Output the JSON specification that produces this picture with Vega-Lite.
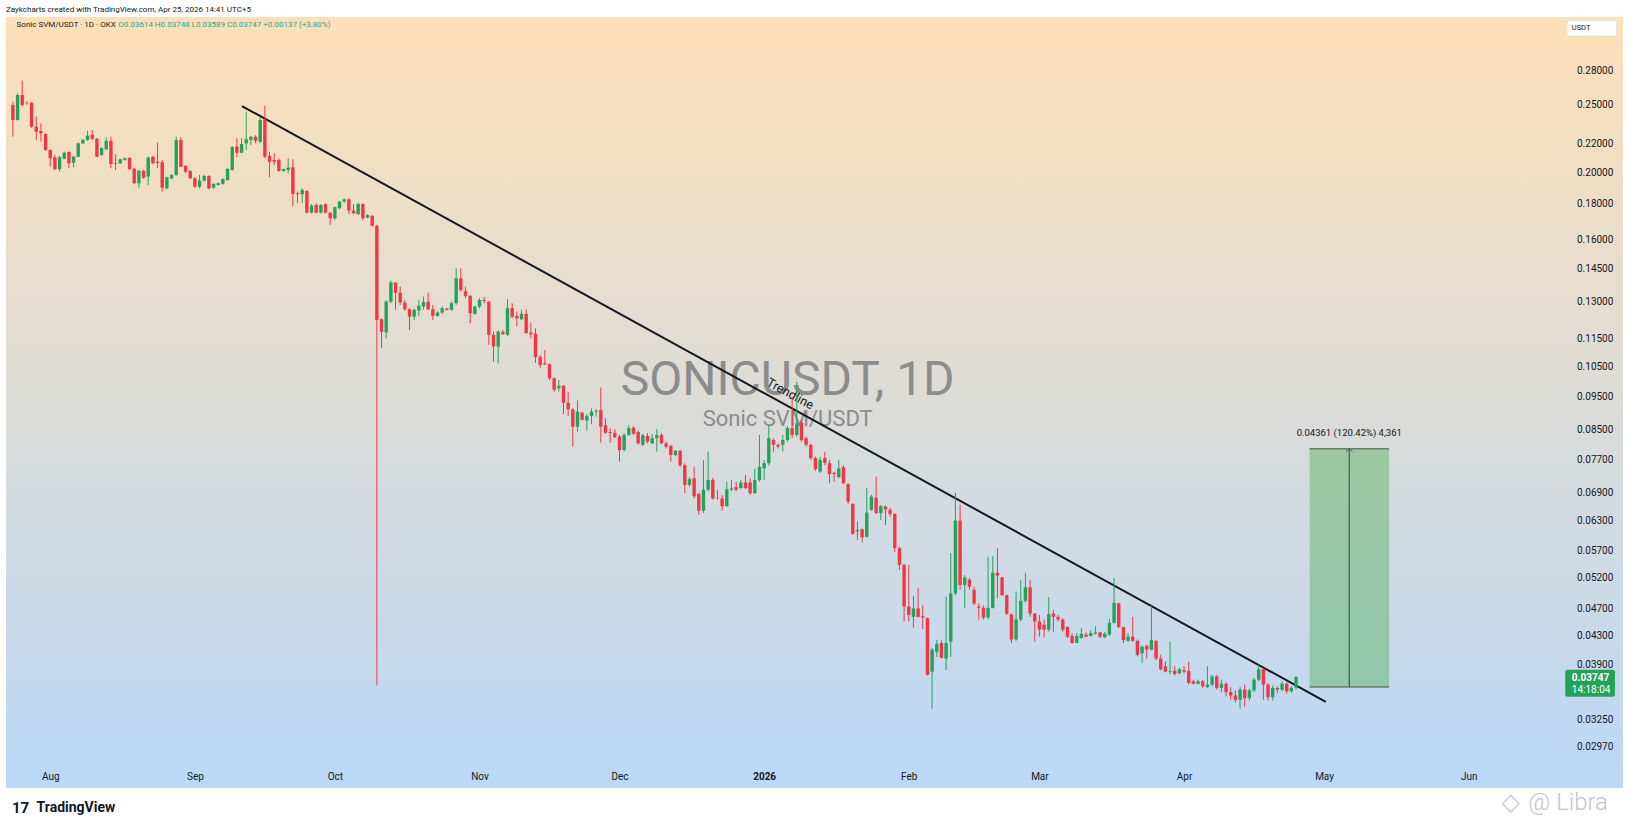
{
  "$schema": "https://vega.github.io/schema/vega-lite/v6.json",
  "width": 1617,
  "height": 771,
  "autosize": {"type": "none"},
  "padding": {"left": 6, "top": 17, "right": 8, "bottom": 40},
  "background": "#ffffff",
  "title": {
    "text": "Zaykcharts created with TradingView.com, Apr 25, 2026 14:41 UTC+5",
    "anchor": "start",
    "frame": "group",
    "font": "Roboto",
    "fontSize": 8,
    "fontWeight": "normal",
    "color": "#131722",
    "offset": 3
  },
  "config": {"view": {"stroke": null}, "font": "Roboto"},
  "datasets": {
    "candles": [
      {"date": "2025-07-24", "open": 0.2499, "high": 0.2526, "low": 0.2249, "close": 0.2377},
      {"date": "2025-07-25", "open": 0.2377, "high": 0.2597, "low": 0.2372, "close": 0.2583},
      {"date": "2025-07-26", "open": 0.2583, "high": 0.2709, "low": 0.2485, "close": 0.2499},
      {"date": "2025-07-27", "open": 0.2518, "high": 0.2529, "low": 0.2501, "close": 0.2513},
      {"date": "2025-07-28", "open": 0.2518, "high": 0.2524, "low": 0.2313, "close": 0.2325},
      {"date": "2025-07-29", "open": 0.2325, "high": 0.2404, "low": 0.2225, "close": 0.2287},
      {"date": "2025-07-30", "open": 0.2292, "high": 0.2351, "low": 0.2212, "close": 0.2275},
      {"date": "2025-07-31", "open": 0.2270, "high": 0.2275, "low": 0.2147, "close": 0.2152},
      {"date": "2025-08-01", "open": 0.2152, "high": 0.2157, "low": 0.2036, "close": 0.2094},
      {"date": "2025-08-02", "open": 0.2101, "high": 0.2117, "low": 0.2014, "close": 0.2019},
      {"date": "2025-08-03", "open": 0.2019, "high": 0.2110, "low": 0.2003, "close": 0.2101},
      {"date": "2025-08-04", "open": 0.2091, "high": 0.2140, "low": 0.2087, "close": 0.2133},
      {"date": "2025-08-05", "open": 0.2138, "high": 0.2143, "low": 0.2026, "close": 0.2059},
      {"date": "2025-08-06", "open": 0.2063, "high": 0.2110, "low": 0.2032, "close": 0.2105},
      {"date": "2025-08-07", "open": 0.2105, "high": 0.2205, "low": 0.2101, "close": 0.2200},
      {"date": "2025-08-08", "open": 0.2200, "high": 0.2234, "low": 0.2195, "close": 0.2225},
      {"date": "2025-08-09", "open": 0.2225, "high": 0.2294, "low": 0.2219, "close": 0.2257},
      {"date": "2025-08-10", "open": 0.2264, "high": 0.2300, "low": 0.2225, "close": 0.2234},
      {"date": "2025-08-11", "open": 0.2234, "high": 0.2240, "low": 0.2101, "close": 0.2105},
      {"date": "2025-08-12", "open": 0.2117, "high": 0.2172, "low": 0.2110, "close": 0.2165},
      {"date": "2025-08-13", "open": 0.2157, "high": 0.2245, "low": 0.2152, "close": 0.2219},
      {"date": "2025-08-14", "open": 0.2219, "high": 0.2249, "low": 0.2026, "close": 0.2054},
      {"date": "2025-08-15", "open": 0.2059, "high": 0.2123, "low": 0.2014, "close": 0.2054},
      {"date": "2025-08-16", "open": 0.2059, "high": 0.2091, "low": 0.2054, "close": 0.2087},
      {"date": "2025-08-17", "open": 0.2082, "high": 0.2101, "low": 0.2077, "close": 0.2094},
      {"date": "2025-08-18", "open": 0.2096, "high": 0.2101, "low": 0.2014, "close": 0.2019},
      {"date": "2025-08-19", "open": 0.2023, "high": 0.2028, "low": 0.1923, "close": 0.1927},
      {"date": "2025-08-20", "open": 0.1927, "high": 0.2014, "low": 0.1895, "close": 0.2009},
      {"date": "2025-08-21", "open": 0.2009, "high": 0.2014, "low": 0.1957, "close": 0.1963},
      {"date": "2025-08-22", "open": 0.1970, "high": 0.2105, "low": 0.1916, "close": 0.2098},
      {"date": "2025-08-23", "open": 0.2105, "high": 0.2110, "low": 0.2054, "close": 0.2059},
      {"date": "2025-08-24", "open": 0.2070, "high": 0.2205, "low": 0.2026, "close": 0.2061},
      {"date": "2025-08-25", "open": 0.2066, "high": 0.2082, "low": 0.1874, "close": 0.1899},
      {"date": "2025-08-26", "open": 0.1895, "high": 0.1970, "low": 0.1889, "close": 0.1966},
      {"date": "2025-08-27", "open": 0.1959, "high": 0.1985, "low": 0.1953, "close": 0.1981},
      {"date": "2025-08-28", "open": 0.1981, "high": 0.2249, "low": 0.1974, "close": 0.2225},
      {"date": "2025-08-29", "open": 0.2225, "high": 0.2245, "low": 0.2032, "close": 0.2036},
      {"date": "2025-08-30", "open": 0.2041, "high": 0.2046, "low": 0.1992, "close": 0.2003},
      {"date": "2025-08-31", "open": 0.2007, "high": 0.2014, "low": 0.1953, "close": 0.1959},
      {"date": "2025-09-01", "open": 0.1959, "high": 0.1966, "low": 0.1899, "close": 0.1905},
      {"date": "2025-09-02", "open": 0.1905, "high": 0.1981, "low": 0.1895, "close": 0.1944},
      {"date": "2025-09-03", "open": 0.1944, "high": 0.1981, "low": 0.1937, "close": 0.1974},
      {"date": "2025-09-04", "open": 0.1974, "high": 0.1979, "low": 0.1889, "close": 0.1895},
      {"date": "2025-09-05", "open": 0.1899, "high": 0.1927, "low": 0.1893, "close": 0.1923},
      {"date": "2025-09-06", "open": 0.1916, "high": 0.1931, "low": 0.1912, "close": 0.1927},
      {"date": "2025-09-07", "open": 0.1923, "high": 0.1959, "low": 0.1918, "close": 0.1955},
      {"date": "2025-09-08", "open": 0.1948, "high": 0.2026, "low": 0.1944, "close": 0.2021},
      {"date": "2025-09-09", "open": 0.2014, "high": 0.2181, "low": 0.2009, "close": 0.2172},
      {"date": "2025-09-10", "open": 0.2177, "high": 0.2237, "low": 0.2101, "close": 0.2133},
      {"date": "2025-09-11", "open": 0.2133, "high": 0.2237, "low": 0.2129, "close": 0.2195},
      {"date": "2025-09-12", "open": 0.2200, "high": 0.2444, "low": 0.2152, "close": 0.2230},
      {"date": "2025-09-13", "open": 0.2225, "high": 0.2255, "low": 0.2188, "close": 0.2249},
      {"date": "2025-09-14", "open": 0.2249, "high": 0.2260, "low": 0.2200, "close": 0.2219},
      {"date": "2025-09-15", "open": 0.2212, "high": 0.2399, "low": 0.2200, "close": 0.2377},
      {"date": "2025-09-16", "open": 0.2383, "high": 0.2493, "low": 0.2094, "close": 0.2105},
      {"date": "2025-09-17", "open": 0.2110, "high": 0.2140, "low": 0.1966, "close": 0.2070},
      {"date": "2025-09-18", "open": 0.2082, "high": 0.2129, "low": 0.2047, "close": 0.2070},
      {"date": "2025-09-19", "open": 0.2082, "high": 0.2094, "low": 0.2003, "close": 0.2007},
      {"date": "2025-09-20", "open": 0.2007, "high": 0.2023, "low": 0.2003, "close": 0.2019},
      {"date": "2025-09-21", "open": 0.2014, "high": 0.2094, "low": 0.1992, "close": 0.2030},
      {"date": "2025-09-22", "open": 0.2032, "high": 0.2087, "low": 0.1787, "close": 0.1860},
      {"date": "2025-09-23", "open": 0.1864, "high": 0.1874, "low": 0.1803, "close": 0.1858},
      {"date": "2025-09-24", "open": 0.1858, "high": 0.1895, "low": 0.1803, "close": 0.1885},
      {"date": "2025-09-25", "open": 0.1878, "high": 0.1885, "low": 0.1744, "close": 0.1748},
      {"date": "2025-09-26", "open": 0.1748, "high": 0.1798, "low": 0.1744, "close": 0.1789},
      {"date": "2025-09-27", "open": 0.1793, "high": 0.1803, "low": 0.1744, "close": 0.1748},
      {"date": "2025-09-28", "open": 0.1748, "high": 0.1799, "low": 0.1744, "close": 0.1793},
      {"date": "2025-09-29", "open": 0.1798, "high": 0.1803, "low": 0.1744, "close": 0.1748},
      {"date": "2025-09-30", "open": 0.1748, "high": 0.1752, "low": 0.1678, "close": 0.1716},
      {"date": "2025-10-01", "open": 0.1716, "high": 0.1784, "low": 0.1706, "close": 0.1780},
      {"date": "2025-10-02", "open": 0.1774, "high": 0.1819, "low": 0.1768, "close": 0.1813},
      {"date": "2025-10-03", "open": 0.1813, "high": 0.1831, "low": 0.1807, "close": 0.1827},
      {"date": "2025-10-04", "open": 0.1827, "high": 0.1831, "low": 0.1740, "close": 0.1760},
      {"date": "2025-10-05", "open": 0.1760, "high": 0.1799, "low": 0.1740, "close": 0.1744},
      {"date": "2025-10-06", "open": 0.1740, "high": 0.1807, "low": 0.1734, "close": 0.1799},
      {"date": "2025-10-07", "open": 0.1799, "high": 0.1803, "low": 0.1706, "close": 0.1716},
      {"date": "2025-10-08", "open": 0.1719, "high": 0.1740, "low": 0.1716, "close": 0.1734},
      {"date": "2025-10-09", "open": 0.1730, "high": 0.1734, "low": 0.1669, "close": 0.1674},
      {"date": "2025-10-10", "open": 0.1674, "high": 0.1678, "low": 0.0364, "close": 0.1224},
      {"date": "2025-10-11", "open": 0.1227, "high": 0.1230, "low": 0.1116, "close": 0.1177},
      {"date": "2025-10-12", "open": 0.1175, "high": 0.1308, "low": 0.1152, "close": 0.1301},
      {"date": "2025-10-13", "open": 0.1301, "high": 0.1395, "low": 0.1294, "close": 0.1386},
      {"date": "2025-10-14", "open": 0.1386, "high": 0.1389, "low": 0.1266, "close": 0.1340},
      {"date": "2025-10-15", "open": 0.1340, "high": 0.1367, "low": 0.1287, "close": 0.1297},
      {"date": "2025-10-16", "open": 0.1297, "high": 0.1308, "low": 0.1263, "close": 0.1268},
      {"date": "2025-10-17", "open": 0.1268, "high": 0.1273, "low": 0.1184, "close": 0.1238},
      {"date": "2025-10-18", "open": 0.1238, "high": 0.1271, "low": 0.1224, "close": 0.1266},
      {"date": "2025-10-19", "open": 0.1263, "high": 0.1308, "low": 0.1241, "close": 0.1283},
      {"date": "2025-10-20", "open": 0.1280, "high": 0.1323, "low": 0.1266, "close": 0.1300},
      {"date": "2025-10-21", "open": 0.1300, "high": 0.1340, "low": 0.1266, "close": 0.1268},
      {"date": "2025-10-22", "open": 0.1268, "high": 0.1287, "low": 0.1224, "close": 0.1241},
      {"date": "2025-10-23", "open": 0.1241, "high": 0.1259, "low": 0.1238, "close": 0.1255},
      {"date": "2025-10-24", "open": 0.1255, "high": 0.1280, "low": 0.1249, "close": 0.1273},
      {"date": "2025-10-25", "open": 0.1271, "high": 0.1274, "low": 0.1263, "close": 0.1266},
      {"date": "2025-10-26", "open": 0.1266, "high": 0.1301, "low": 0.1263, "close": 0.1294},
      {"date": "2025-10-27", "open": 0.1294, "high": 0.1453, "low": 0.1287, "close": 0.1406},
      {"date": "2025-10-28", "open": 0.1406, "high": 0.1453, "low": 0.1345, "close": 0.1352},
      {"date": "2025-10-29", "open": 0.1347, "high": 0.1367, "low": 0.1316, "close": 0.1326},
      {"date": "2025-10-30", "open": 0.1326, "high": 0.1330, "low": 0.1211, "close": 0.1252},
      {"date": "2025-10-31", "open": 0.1249, "high": 0.1283, "low": 0.1245, "close": 0.1280},
      {"date": "2025-11-01", "open": 0.1280, "high": 0.1316, "low": 0.1273, "close": 0.1308},
      {"date": "2025-11-02", "open": 0.1308, "high": 0.1321, "low": 0.1294, "close": 0.1304},
      {"date": "2025-11-03", "open": 0.1301, "high": 0.1304, "low": 0.1127, "close": 0.1165},
      {"date": "2025-11-04", "open": 0.1165, "high": 0.1178, "low": 0.1066, "close": 0.1121},
      {"date": "2025-11-05", "open": 0.1121, "high": 0.1182, "low": 0.1060, "close": 0.1178},
      {"date": "2025-11-06", "open": 0.1177, "high": 0.1184, "low": 0.1165, "close": 0.1168},
      {"date": "2025-11-07", "open": 0.1165, "high": 0.1311, "low": 0.1161, "close": 0.1273},
      {"date": "2025-11-08", "open": 0.1273, "high": 0.1294, "low": 0.1231, "close": 0.1238},
      {"date": "2025-11-09", "open": 0.1241, "high": 0.1259, "low": 0.1198, "close": 0.1231},
      {"date": "2025-11-10", "open": 0.1227, "high": 0.1266, "low": 0.1224, "close": 0.1249},
      {"date": "2025-11-11", "open": 0.1249, "high": 0.1268, "low": 0.1170, "close": 0.1172},
      {"date": "2025-11-12", "open": 0.1174, "high": 0.1213, "low": 0.1152, "close": 0.1168},
      {"date": "2025-11-13", "open": 0.1170, "high": 0.1191, "low": 0.1062, "close": 0.1082},
      {"date": "2025-11-14", "open": 0.1082, "high": 0.1090, "low": 0.1043, "close": 0.1054},
      {"date": "2025-11-15", "open": 0.1060, "high": 0.1108, "low": 0.1054, "close": 0.1056},
      {"date": "2025-11-16", "open": 0.1057, "high": 0.1060, "low": 0.1003, "close": 0.1009},
      {"date": "2025-11-17", "open": 0.1009, "high": 0.1012, "low": 0.0965, "close": 0.0971},
      {"date": "2025-11-18", "open": 0.0976, "high": 0.1003, "low": 0.0965, "close": 0.0984},
      {"date": "2025-11-19", "open": 0.0984, "high": 0.0986, "low": 0.0896, "close": 0.0930},
      {"date": "2025-11-20", "open": 0.0930, "high": 0.0965, "low": 0.0890, "close": 0.0910},
      {"date": "2025-11-21", "open": 0.0910, "high": 0.0913, "low": 0.0804, "close": 0.0859},
      {"date": "2025-11-22", "open": 0.0859, "high": 0.0937, "low": 0.0845, "close": 0.0903},
      {"date": "2025-11-23", "open": 0.0900, "high": 0.0903, "low": 0.0877, "close": 0.0879},
      {"date": "2025-11-24", "open": 0.0877, "high": 0.0896, "low": 0.0848, "close": 0.0890},
      {"date": "2025-11-25", "open": 0.0890, "high": 0.0913, "low": 0.0867, "close": 0.0903},
      {"date": "2025-11-26", "open": 0.0903, "high": 0.0910, "low": 0.0888, "close": 0.0906},
      {"date": "2025-11-27", "open": 0.0908, "high": 0.0979, "low": 0.0815, "close": 0.0859},
      {"date": "2025-11-28", "open": 0.0863, "high": 0.0884, "low": 0.0839, "close": 0.0842},
      {"date": "2025-11-29", "open": 0.0844, "high": 0.0855, "low": 0.0814, "close": 0.0841},
      {"date": "2025-11-30", "open": 0.0841, "high": 0.0852, "low": 0.0827, "close": 0.0830},
      {"date": "2025-12-01", "open": 0.0831, "high": 0.0836, "low": 0.0765, "close": 0.0795},
      {"date": "2025-12-02", "open": 0.0795, "high": 0.0841, "low": 0.0791, "close": 0.0836},
      {"date": "2025-12-03", "open": 0.0836, "high": 0.0864, "low": 0.0833, "close": 0.0855},
      {"date": "2025-12-04", "open": 0.0856, "high": 0.0861, "low": 0.0836, "close": 0.0839},
      {"date": "2025-12-05", "open": 0.0844, "high": 0.0848, "low": 0.0809, "close": 0.0813},
      {"date": "2025-12-06", "open": 0.0809, "high": 0.0839, "low": 0.0806, "close": 0.0835},
      {"date": "2025-12-07", "open": 0.0833, "high": 0.0841, "low": 0.0813, "close": 0.0818},
      {"date": "2025-12-08", "open": 0.0813, "high": 0.0839, "low": 0.0811, "close": 0.0827},
      {"date": "2025-12-09", "open": 0.0827, "high": 0.0852, "low": 0.0791, "close": 0.0836},
      {"date": "2025-12-10", "open": 0.0836, "high": 0.0841, "low": 0.0811, "close": 0.0813},
      {"date": "2025-12-11", "open": 0.0813, "high": 0.0818, "low": 0.0799, "close": 0.0804},
      {"date": "2025-12-12", "open": 0.0806, "high": 0.0809, "low": 0.0765, "close": 0.0782},
      {"date": "2025-12-13", "open": 0.0782, "high": 0.0795, "low": 0.0779, "close": 0.0793},
      {"date": "2025-12-14", "open": 0.0793, "high": 0.0795, "low": 0.0752, "close": 0.0756},
      {"date": "2025-12-15", "open": 0.0756, "high": 0.0761, "low": 0.0689, "close": 0.0708},
      {"date": "2025-12-16", "open": 0.0708, "high": 0.0727, "low": 0.0704, "close": 0.0722},
      {"date": "2025-12-17", "open": 0.0724, "high": 0.0752, "low": 0.0677, "close": 0.0682},
      {"date": "2025-12-18", "open": 0.0687, "high": 0.0690, "low": 0.0641, "close": 0.0650},
      {"date": "2025-12-19", "open": 0.0650, "high": 0.0769, "low": 0.0645, "close": 0.0697},
      {"date": "2025-12-20", "open": 0.0697, "high": 0.0791, "low": 0.0693, "close": 0.0720},
      {"date": "2025-12-21", "open": 0.0720, "high": 0.0725, "low": 0.0674, "close": 0.0677},
      {"date": "2025-12-22", "open": 0.0680, "high": 0.0697, "low": 0.0674, "close": 0.0679},
      {"date": "2025-12-23", "open": 0.0677, "high": 0.0685, "low": 0.0650, "close": 0.0660},
      {"date": "2025-12-24", "open": 0.0660, "high": 0.0716, "low": 0.0659, "close": 0.0698},
      {"date": "2025-12-25", "open": 0.0697, "high": 0.0720, "low": 0.0693, "close": 0.0700},
      {"date": "2025-12-26", "open": 0.0703, "high": 0.0716, "low": 0.0693, "close": 0.0697},
      {"date": "2025-12-27", "open": 0.0701, "high": 0.0720, "low": 0.0698, "close": 0.0714},
      {"date": "2025-12-28", "open": 0.0714, "high": 0.0732, "low": 0.0698, "close": 0.0701},
      {"date": "2025-12-29", "open": 0.0714, "high": 0.0724, "low": 0.0685, "close": 0.0689},
      {"date": "2025-12-30", "open": 0.0689, "high": 0.0748, "low": 0.0687, "close": 0.0720},
      {"date": "2025-12-31", "open": 0.0720, "high": 0.0836, "low": 0.0716, "close": 0.0752},
      {"date": "2026-01-01", "open": 0.0748, "high": 0.0769, "low": 0.0720, "close": 0.0761},
      {"date": "2026-01-02", "open": 0.0761, "high": 0.0864, "low": 0.0756, "close": 0.0827},
      {"date": "2026-01-03", "open": 0.0822, "high": 0.0827, "low": 0.0791, "close": 0.0809},
      {"date": "2026-01-04", "open": 0.0809, "high": 0.0813, "low": 0.0799, "close": 0.0804},
      {"date": "2026-01-05", "open": 0.0809, "high": 0.0836, "low": 0.0791, "close": 0.0822},
      {"date": "2026-01-06", "open": 0.0822, "high": 0.0861, "low": 0.0817, "close": 0.0855},
      {"date": "2026-01-07", "open": 0.0855, "high": 0.0949, "low": 0.0827, "close": 0.0836},
      {"date": "2026-01-08", "open": 0.0836, "high": 0.0997, "low": 0.0831, "close": 0.0869},
      {"date": "2026-01-09", "open": 0.0871, "high": 0.0879, "low": 0.0817, "close": 0.0822},
      {"date": "2026-01-10", "open": 0.0827, "high": 0.0831, "low": 0.0804, "close": 0.0809},
      {"date": "2026-01-11", "open": 0.0809, "high": 0.0811, "low": 0.0769, "close": 0.0774},
      {"date": "2026-01-12", "open": 0.0774, "high": 0.0778, "low": 0.0742, "close": 0.0746},
      {"date": "2026-01-13", "open": 0.0740, "high": 0.0777, "low": 0.0737, "close": 0.0769},
      {"date": "2026-01-14", "open": 0.0774, "high": 0.0791, "low": 0.0756, "close": 0.0762},
      {"date": "2026-01-15", "open": 0.0761, "high": 0.0769, "low": 0.0712, "close": 0.0734},
      {"date": "2026-01-16", "open": 0.0737, "high": 0.0740, "low": 0.0716, "close": 0.0734},
      {"date": "2026-01-17", "open": 0.0727, "high": 0.0769, "low": 0.0724, "close": 0.0748},
      {"date": "2026-01-18", "open": 0.0751, "high": 0.0756, "low": 0.0710, "close": 0.0712},
      {"date": "2026-01-19", "open": 0.0710, "high": 0.0712, "low": 0.0665, "close": 0.0670},
      {"date": "2026-01-20", "open": 0.0665, "high": 0.0666, "low": 0.0600, "close": 0.0602},
      {"date": "2026-01-21", "open": 0.0607, "high": 0.0627, "low": 0.0590, "close": 0.0610},
      {"date": "2026-01-22", "open": 0.0611, "high": 0.0613, "low": 0.0585, "close": 0.0595},
      {"date": "2026-01-23", "open": 0.0596, "high": 0.0701, "low": 0.0595, "close": 0.0646},
      {"date": "2026-01-24", "open": 0.0652, "high": 0.0685, "low": 0.0650, "close": 0.0681},
      {"date": "2026-01-25", "open": 0.0679, "high": 0.0728, "low": 0.0643, "close": 0.0645},
      {"date": "2026-01-26", "open": 0.0645, "high": 0.0662, "low": 0.0630, "close": 0.0660},
      {"date": "2026-01-27", "open": 0.0659, "high": 0.0662, "low": 0.0620, "close": 0.0653},
      {"date": "2026-01-28", "open": 0.0652, "high": 0.0656, "low": 0.0637, "close": 0.0643},
      {"date": "2026-01-29", "open": 0.0643, "high": 0.0645, "low": 0.0567, "close": 0.0574},
      {"date": "2026-01-30", "open": 0.0574, "high": 0.0577, "low": 0.0534, "close": 0.0543},
      {"date": "2026-01-31", "open": 0.0543, "high": 0.0545, "low": 0.0450, "close": 0.0473},
      {"date": "2026-02-01", "open": 0.0473, "high": 0.0543, "low": 0.0450, "close": 0.0460},
      {"date": "2026-02-02", "open": 0.0457, "high": 0.0490, "low": 0.0441, "close": 0.0470},
      {"date": "2026-02-03", "open": 0.0470, "high": 0.0503, "low": 0.0456, "close": 0.0457},
      {"date": "2026-02-04", "open": 0.0458, "high": 0.0475, "low": 0.0439, "close": 0.0456},
      {"date": "2026-02-05", "open": 0.0455, "high": 0.0456, "low": 0.0376, "close": 0.0377},
      {"date": "2026-02-06", "open": 0.0381, "high": 0.0412, "low": 0.0337, "close": 0.0410},
      {"date": "2026-02-07", "open": 0.0407, "high": 0.0423, "low": 0.0400, "close": 0.0418},
      {"date": "2026-02-08", "open": 0.0419, "high": 0.0423, "low": 0.0398, "close": 0.0399},
      {"date": "2026-02-09", "open": 0.0398, "high": 0.0489, "low": 0.0383, "close": 0.0419},
      {"date": "2026-02-10", "open": 0.0421, "high": 0.0565, "low": 0.0400, "close": 0.0494},
      {"date": "2026-02-11", "open": 0.0494, "high": 0.0690, "low": 0.0491, "close": 0.0629},
      {"date": "2026-02-12", "open": 0.0629, "high": 0.0663, "low": 0.0500, "close": 0.0508},
      {"date": "2026-02-13", "open": 0.0508, "high": 0.0525, "low": 0.0471, "close": 0.0521},
      {"date": "2026-02-14", "open": 0.0517, "high": 0.0520, "low": 0.0500, "close": 0.0505},
      {"date": "2026-02-15", "open": 0.0500, "high": 0.0505, "low": 0.0475, "close": 0.0478},
      {"date": "2026-02-16", "open": 0.0473, "high": 0.0478, "low": 0.0453, "close": 0.0471},
      {"date": "2026-02-17", "open": 0.0471, "high": 0.0475, "low": 0.0453, "close": 0.0456},
      {"date": "2026-02-18", "open": 0.0456, "high": 0.0558, "low": 0.0453, "close": 0.0471},
      {"date": "2026-02-19", "open": 0.0471, "high": 0.0559, "low": 0.0470, "close": 0.0529},
      {"date": "2026-02-20", "open": 0.0529, "high": 0.0574, "low": 0.0486, "close": 0.0524},
      {"date": "2026-02-21", "open": 0.0521, "high": 0.0522, "low": 0.0490, "close": 0.0491},
      {"date": "2026-02-22", "open": 0.0491, "high": 0.0492, "low": 0.0460, "close": 0.0462},
      {"date": "2026-02-23", "open": 0.0461, "high": 0.0462, "low": 0.0419, "close": 0.0424},
      {"date": "2026-02-24", "open": 0.0424, "high": 0.0497, "low": 0.0422, "close": 0.0453},
      {"date": "2026-02-25", "open": 0.0453, "high": 0.0517, "low": 0.0450, "close": 0.0482},
      {"date": "2026-02-26", "open": 0.0482, "high": 0.0529, "low": 0.0479, "close": 0.0504},
      {"date": "2026-02-27", "open": 0.0504, "high": 0.0517, "low": 0.0457, "close": 0.0462},
      {"date": "2026-02-28", "open": 0.0462, "high": 0.0463, "low": 0.0421, "close": 0.0450},
      {"date": "2026-03-01", "open": 0.0450, "high": 0.0460, "low": 0.0428, "close": 0.0438},
      {"date": "2026-03-02", "open": 0.0445, "high": 0.0453, "low": 0.0427, "close": 0.0438},
      {"date": "2026-03-03", "open": 0.0438, "high": 0.0488, "low": 0.0435, "close": 0.0461},
      {"date": "2026-03-04", "open": 0.0462, "high": 0.0468, "low": 0.0435, "close": 0.0457},
      {"date": "2026-03-05", "open": 0.0457, "high": 0.0460, "low": 0.0450, "close": 0.0453},
      {"date": "2026-03-06", "open": 0.0453, "high": 0.0455, "low": 0.0435, "close": 0.0438},
      {"date": "2026-03-07", "open": 0.0442, "high": 0.0443, "low": 0.0426, "close": 0.0428},
      {"date": "2026-03-08", "open": 0.0429, "high": 0.0433, "low": 0.0418, "close": 0.0419},
      {"date": "2026-03-09", "open": 0.0419, "high": 0.0433, "low": 0.0419, "close": 0.0429},
      {"date": "2026-03-10", "open": 0.0426, "high": 0.0440, "low": 0.0425, "close": 0.0432},
      {"date": "2026-03-11", "open": 0.0431, "high": 0.0434, "low": 0.0427, "close": 0.0428},
      {"date": "2026-03-12", "open": 0.0429, "high": 0.0437, "low": 0.0428, "close": 0.0433},
      {"date": "2026-03-13", "open": 0.0432, "high": 0.0443, "low": 0.0431, "close": 0.0434},
      {"date": "2026-03-14", "open": 0.0434, "high": 0.0435, "low": 0.0426, "close": 0.0428},
      {"date": "2026-03-15", "open": 0.0427, "high": 0.0435, "low": 0.0426, "close": 0.0432},
      {"date": "2026-03-16", "open": 0.0431, "high": 0.0454, "low": 0.0429, "close": 0.0448},
      {"date": "2026-03-17", "open": 0.0448, "high": 0.0520, "low": 0.0447, "close": 0.0479},
      {"date": "2026-03-18", "open": 0.0478, "high": 0.0479, "low": 0.0440, "close": 0.0442},
      {"date": "2026-03-19", "open": 0.0442, "high": 0.0442, "low": 0.0419, "close": 0.0423},
      {"date": "2026-03-20", "open": 0.0422, "high": 0.0433, "low": 0.0421, "close": 0.0428},
      {"date": "2026-03-21", "open": 0.0428, "high": 0.0457, "low": 0.0421, "close": 0.0422},
      {"date": "2026-03-22", "open": 0.0422, "high": 0.0424, "low": 0.0401, "close": 0.0403},
      {"date": "2026-03-23", "open": 0.0405, "high": 0.0415, "low": 0.0392, "close": 0.0414},
      {"date": "2026-03-24", "open": 0.0415, "high": 0.0417, "low": 0.0398, "close": 0.0410},
      {"date": "2026-03-25", "open": 0.0410, "high": 0.0474, "low": 0.0409, "close": 0.0423},
      {"date": "2026-03-26", "open": 0.0422, "high": 0.0423, "low": 0.0396, "close": 0.0398},
      {"date": "2026-03-27", "open": 0.0398, "high": 0.0403, "low": 0.0383, "close": 0.0384},
      {"date": "2026-03-28", "open": 0.0388, "high": 0.0394, "low": 0.0380, "close": 0.0381},
      {"date": "2026-03-29", "open": 0.0381, "high": 0.0421, "low": 0.0378, "close": 0.0382},
      {"date": "2026-03-30", "open": 0.0382, "high": 0.0388, "low": 0.0376, "close": 0.0378},
      {"date": "2026-03-31", "open": 0.0379, "high": 0.0386, "low": 0.0378, "close": 0.0384},
      {"date": "2026-04-01", "open": 0.0383, "high": 0.0388, "low": 0.0379, "close": 0.0381},
      {"date": "2026-04-02", "open": 0.0382, "high": 0.0394, "low": 0.0365, "close": 0.0367},
      {"date": "2026-04-03", "open": 0.0369, "high": 0.0371, "low": 0.0365, "close": 0.0366},
      {"date": "2026-04-04", "open": 0.0366, "high": 0.0371, "low": 0.0365, "close": 0.0369},
      {"date": "2026-04-05", "open": 0.0369, "high": 0.0371, "low": 0.0361, "close": 0.0363},
      {"date": "2026-04-06", "open": 0.0362, "high": 0.0388, "low": 0.0361, "close": 0.0365},
      {"date": "2026-04-07", "open": 0.0365, "high": 0.0377, "low": 0.0363, "close": 0.0375},
      {"date": "2026-04-08", "open": 0.0375, "high": 0.0377, "low": 0.0359, "close": 0.0361},
      {"date": "2026-04-09", "open": 0.0361, "high": 0.0371, "low": 0.0356, "close": 0.0366},
      {"date": "2026-04-10", "open": 0.0366, "high": 0.0368, "low": 0.0351, "close": 0.0356},
      {"date": "2026-04-11", "open": 0.0356, "high": 0.0362, "low": 0.0347, "close": 0.0352},
      {"date": "2026-04-12", "open": 0.0352, "high": 0.0358, "low": 0.0344, "close": 0.0347},
      {"date": "2026-04-13", "open": 0.0347, "high": 0.0362, "low": 0.0337, "close": 0.0359},
      {"date": "2026-04-14", "open": 0.0359, "high": 0.0365, "low": 0.0339, "close": 0.0349},
      {"date": "2026-04-15", "open": 0.0349, "high": 0.0360, "low": 0.0346, "close": 0.0358},
      {"date": "2026-04-16", "open": 0.0358, "high": 0.0373, "low": 0.0356, "close": 0.0371},
      {"date": "2026-04-17", "open": 0.0371, "high": 0.0390, "low": 0.0369, "close": 0.0384},
      {"date": "2026-04-18", "open": 0.0384, "high": 0.0385, "low": 0.0347, "close": 0.0365},
      {"date": "2026-04-19", "open": 0.0365, "high": 0.0367, "low": 0.0346, "close": 0.0350},
      {"date": "2026-04-20", "open": 0.0350, "high": 0.0364, "low": 0.0346, "close": 0.0361},
      {"date": "2026-04-21", "open": 0.0361, "high": 0.0363, "low": 0.0355, "close": 0.0359},
      {"date": "2026-04-22", "open": 0.0359, "high": 0.0369, "low": 0.0357, "close": 0.0366},
      {"date": "2026-04-23", "open": 0.0366, "high": 0.0368, "low": 0.0354, "close": 0.0357},
      {"date": "2026-04-24", "open": 0.0357, "high": 0.0363, "low": 0.0355, "close": 0.0361},
      {"date": "2026-04-25", "open": 0.03614, "high": 0.03748, "low": 0.03589, "close": 0.03747}
    ]
  },
  "layer": [
    {
      "data": {"values": [{}]},
      "mark": {
        "type": "rect",
        "strokeWidth": 0,
        "fill": {
          "gradient": "linear", "x1": 0, "y1": 0, "x2": 0, "y2": 1,
          "stops": [{"offset": 0, "color": "#fde0b8"}, {"offset": 1, "color": "#bbd8f7"}]
        }
      },
      "encoding": {}
    },
    {
      "data": {"values": [{}]},
      "mark": {"type": "text", "text": "SONICUSDT, 1D", "font": "Roboto", "fontSize": 48, "color": "#8c8c8c", "align": "center", "baseline": "alphabetic"},
      "encoding": {
        "x": {"datum": {"year": 2026, "month": 1, "date": 6, "hours": 1, "utc": true}, "type": "temporal"},
        "y": {"datum": 0.09544, "type": "quantitative"}
      }
    },
    {
      "data": {"values": [{}]},
      "mark": {"type": "text", "text": "Sonic SVM/USDT", "font": "Roboto", "fontSize": 22, "color": "#8c8c8c", "align": "center", "baseline": "alphabetic"},
      "encoding": {
        "x": {"datum": {"year": 2026, "month": 1, "date": 6, "hours": 1, "utc": true}, "type": "temporal"},
        "y": {"datum": 0.08614, "type": "quantitative"}
      }
    },
    {
      "data": {"values": [{"date": "2025-09-11T02:00:00Z", "price": 0.249}, {"date": "2026-05-01T09:00:00Z", "price": 0.03447}]},
      "mark": {"type": "line", "color": "#131722", "strokeWidth": 2},
      "encoding": {
        "x": {"field": "date", "type": "temporal"},
        "y": {"field": "price", "type": "quantitative"}
      }
    },
    {
      "data": {"values": [{}]},
      "mark": {"type": "text", "text": "Trendline", "font": "Roboto", "fontSize": 12.5, "color": "#131722", "align": "center", "baseline": "middle", "angle": 28.7},
      "encoding": {
        "x": {"datum": {"year": 2026, "month": 1, "date": 6, "hours": 14, "minutes": 24, "utc": true}, "type": "temporal"},
        "y": {"datum": 0.0958, "type": "quantitative"}
      }
    },
    {
      "data": {"name": "candles"},
      "mark": {"type": "rule", "strokeWidth": 1},
      "encoding": {
        "x": {
          "field": "date",
          "type": "temporal",
          "scale": {
            "type": "utc",
            "nice": false,
            "domain": [
              {"year": 2025, "month": 7, "date": 23, "hours": 14, "minutes": 10, "utc": true},
              {"year": 2026, "month": 7, "date": 3, "utc": true}
            ]
          },
          "axis": {
            "title": null,
            "orient": "bottom",
            "offset": -19,
            "values": [
              {"year": 2025, "month": 8, "date": 1, "utc": true},
              {"year": 2025, "month": 9, "date": 1, "utc": true},
              {"year": 2025, "month": 10, "date": 1, "utc": true},
              {"year": 2025, "month": 11, "date": 1, "utc": true},
              {"year": 2025, "month": 12, "date": 1, "utc": true},
              {"year": 2026, "month": 1, "date": 1, "utc": true},
              {"year": 2026, "month": 2, "date": 1, "utc": true},
              {"year": 2026, "month": 3, "date": 1, "utc": true},
              {"year": 2026, "month": 4, "date": 1, "utc": true},
              {"year": 2026, "month": 5, "date": 1, "utc": true},
              {"year": 2026, "month": 6, "date": 1, "utc": true}
            ],
            "labelExpr": "utcmonth(datum.value) === 0 ? utcFormat(datum.value, '%Y') : utcFormat(datum.value, '%b')",
            "labelFontWeight": {"condition": {"test": "utcmonth(datum.value) === 0", "value": "bold"}, "value": "normal"},
            "domain": false,
            "ticks": false,
            "tickSize": 0,
            "grid": false,
            "labelPadding": 2,
            "labelFont": "Roboto",
            "labelFontSize": 10,
            "labelColor": "#131722",
            "labelOverlap": false,
            "labelFlush": false,
            "zindex": 1
          }
        },
        "y": {
          "field": "low",
          "type": "quantitative",
          "scale": {"type": "log", "nice": false, "domain": [0.025897, 0.33463]},
          "axis": {
            "title": null,
            "orient": "right",
            "offset": -46.5,
            "values": [0.28, 0.25, 0.22, 0.2, 0.18, 0.16, 0.145, 0.13, 0.115, 0.105, 0.095, 0.085, 0.077, 0.069, 0.063, 0.057, 0.052, 0.047, 0.043, 0.039, 0.0325, 0.0297],
            "format": ".5f",
            "labelAlign": "left",
            "labelBaseline": "middle",
            "labelPadding": 0,
            "domain": false,
            "ticks": false,
            "tickSize": 0,
            "grid": false,
            "labelFont": "Roboto",
            "labelFontSize": 10,
            "labelColor": "#131722",
            "labelOverlap": false,
            "labelFlush": false,
            "labelBound": false,
            "zindex": 1
          }
        },
        "y2": {"field": "high"},
        "color": {"condition": {"test": "datum.close >= datum.open", "value": "#25a25a"}, "value": "#f23645"}
      }
    },
    {
      "data": {"name": "candles"},
      "mark": {"type": "bar", "width": 3.4},
      "encoding": {
        "x": {"field": "date", "type": "temporal"},
        "y": {"field": "open", "type": "quantitative"},
        "y2": {"field": "close"},
        "color": {"condition": {"test": "datum.close >= datum.open", "value": "#25a25a"}, "value": "#f23645"}
      }
    },
    {
      "data": {"values": [{}]},
      "mark": {"type": "rect", "fill": "#4caf50", "fillOpacity": 0.42, "strokeWidth": 0},
      "encoding": {
        "x": {"datum": {"year": 2026, "month": 4, "date": 27, "hours": 21, "minutes": 36, "utc": true}, "type": "temporal"},
        "x2": {"datum": {"year": 2026, "month": 5, "date": 14, "hours": 22, "minutes": 48, "utc": true}},
        "y": {"datum": 0.07983, "type": "quantitative"},
        "y2": {"datum": 0.03621}
      }
    },
    {
      "data": {"values": [{}]},
      "mark": {"type": "rule", "color": "#44544a", "strokeWidth": 1},
      "encoding": {
        "x": {"datum": {"year": 2026, "month": 4, "date": 27, "hours": 21, "minutes": 36, "utc": true}, "type": "temporal"},
        "x2": {"datum": {"year": 2026, "month": 5, "date": 14, "hours": 22, "minutes": 48, "utc": true}},
        "y": {"datum": 0.07983, "type": "quantitative"}
      }
    },
    {
      "data": {"values": [{}]},
      "mark": {"type": "rule", "color": "#44544a", "strokeWidth": 1},
      "encoding": {
        "x": {"datum": {"year": 2026, "month": 4, "date": 27, "hours": 21, "minutes": 36, "utc": true}, "type": "temporal"},
        "x2": {"datum": {"year": 2026, "month": 5, "date": 14, "hours": 22, "minutes": 48, "utc": true}},
        "y": {"datum": 0.03621, "type": "quantitative"}
      }
    },
    {
      "data": {"values": [{}]},
      "mark": {"type": "rule", "color": "#33604a", "strokeWidth": 1.2},
      "encoding": {
        "x": {"datum": {"year": 2026, "month": 5, "date": 6, "hours": 9, "minutes": 36, "utc": true}, "type": "temporal"},
        "y": {"datum": 0.03621, "type": "quantitative"},
        "y2": {"datum": 0.07983}
      }
    },
    {
      "data": {"values": [{}]},
      "mark": {"type": "point", "shape": "M-1,0.9L0,0L1,0.9", "filled": false, "size": 40, "stroke": "#33604a", "strokeWidth": 1, "opacity": 1},
      "encoding": {
        "x": {"datum": {"year": 2026, "month": 5, "date": 6, "hours": 9, "minutes": 36, "utc": true}, "type": "temporal"},
        "y": {"datum": 0.07983, "type": "quantitative"}
      }
    },
    {
      "data": {"values": [{}]},
      "mark": {"type": "text", "text": "0.04361 (120.42%) 4,361", "font": "Roboto", "fontSize": 9.5, "color": "#131722", "align": "center", "baseline": "middle"},
      "encoding": {
        "x": {"datum": {"year": 2026, "month": 5, "date": 6, "hours": 9, "minutes": 36, "utc": true}, "type": "temporal"},
        "y": {"datum": 0.08408, "type": "quantitative"}
      }
    },
    {
      "data": {"values": [{}]},
      "mark": {"type": "text", "text": "Sonic SVM/USDT · 1D · OKX", "font": "Roboto", "fontSize": 8, "color": "#131722", "align": "left", "baseline": "middle"},
      "encoding": {
        "x": {"datum": {"year": 2025, "month": 7, "date": 24, "hours": 19, "utc": true}, "type": "temporal"},
        "y": {"datum": 0.32586, "type": "quantitative"}
      }
    },
    {
      "data": {"values": [{}]},
      "mark": {"type": "text", "text": "O0.03614 H0.03748 L0.03589 C0.03747 +0.00137 (+3.80%)", "font": "Roboto", "fontSize": 8, "color": "#22a88e", "align": "left", "baseline": "middle"},
      "encoding": {
        "x": {"datum": {"year": 2025, "month": 8, "date": 15, "hours": 14, "utc": true}, "type": "temporal"},
        "y": {"datum": 0.32586, "type": "quantitative"}
      }
    },
    {
      "data": {"values": [{}]},
      "mark": {"type": "rect", "fill": "#ffffff", "stroke": "#e0e3eb", "strokeWidth": 1, "cornerRadius": 2},
      "encoding": {
        "x": {"datum": {"year": 2026, "month": 6, "date": 22, "hours": 1, "minutes": 40, "utc": true}, "type": "temporal"},
        "x2": {"datum": {"year": 2026, "month": 7, "date": 2, "hours": 17, "utc": true}},
        "y": {"datum": 0.33055, "type": "quantitative"},
        "y2": {"datum": 0.31418}
      }
    },
    {
      "data": {"values": [{}]},
      "mark": {"type": "text", "text": "USDT", "font": "Roboto", "fontSize": 7.5, "color": "#131722", "align": "left", "baseline": "middle"},
      "encoding": {
        "x": {"datum": {"year": 2026, "month": 6, "date": 23, "hours": 2, "minutes": 24, "utc": true}, "type": "temporal"},
        "y": {"datum": 0.3221, "type": "quantitative"}
      }
    },
    {
      "data": {"values": [{}]},
      "mark": {"type": "rect", "fill": "#25a25a", "cornerRadius": 2, "strokeWidth": 0},
      "encoding": {
        "x": {"datum": {"year": 2026, "month": 6, "date": 21, "hours": 16, "minutes": 48, "utc": true}, "type": "temporal"},
        "x2": {"datum": {"year": 2026, "month": 7, "date": 2, "hours": 8, "minutes": 24, "utc": true}},
        "y": {"datum": 0.03833, "type": "quantitative"},
        "y2": {"datum": 0.03505}
      }
    },
    {
      "data": {"values": [{}]},
      "mark": {"type": "text", "text": "0.03747", "font": "Roboto", "fontSize": 10, "fontWeight": "bold", "color": "#ffffff", "align": "left", "baseline": "middle"},
      "encoding": {
        "x": {"datum": {"year": 2026, "month": 6, "date": 23, "hours": 2, "minutes": 24, "utc": true}, "type": "temporal"},
        "y": {"datum": 0.03733, "type": "quantitative"}
      }
    },
    {
      "data": {"values": [{}]},
      "mark": {"type": "text", "text": "14:18:04", "font": "Roboto", "fontSize": 10, "color": "#ffffff", "align": "left", "baseline": "middle"},
      "encoding": {
        "x": {"datum": {"year": 2026, "month": 6, "date": 23, "hours": 2, "minutes": 24, "utc": true}, "type": "temporal"},
        "y": {"datum": 0.03587, "type": "quantitative"}
      }
    },
    {
      "data": {"values": [{}]},
      "mark": {"type": "text", "text": "17", "font": "Roboto", "fontSize": 15, "fontWeight": "bold", "color": "#131722", "align": "left", "baseline": "middle"},
      "encoding": {
        "x": {"datum": {"year": 2025, "month": 7, "date": 23, "hours": 19, "utc": true}, "type": "temporal"},
        "y": {"datum": 0.02423, "type": "quantitative"}
      }
    },
    {
      "data": {"values": [{}]},
      "mark": {"type": "text", "text": "TradingView", "font": "Roboto", "fontSize": 14, "fontWeight": "bold", "color": "#131722", "align": "left", "baseline": "middle"},
      "encoding": {
        "x": {"datum": {"year": 2025, "month": 7, "date": 29, "hours": 1, "minutes": 30, "utc": true}, "type": "temporal"},
        "y": {"datum": 0.02423, "type": "quantitative"}
      }
    },
    {
      "data": {"values": [{}]},
      "mark": {"type": "text", "text": "◇", "font": "DejaVu Sans", "fontSize": 24, "color": "#cccccc", "align": "center", "baseline": "middle"},
      "encoding": {
        "x": {"datum": {"year": 2026, "month": 6, "date": 10, "utc": true}, "type": "temporal"},
        "y": {"datum": 0.02464, "type": "quantitative"}
      }
    },
    {
      "data": {"values": [{}]},
      "mark": {"type": "text", "text": "@ Libra", "font": "Roboto", "fontSize": 24, "fontWeight": 300, "color": "#c4c4c4", "align": "left", "baseline": "middle"},
      "encoding": {
        "x": {"datum": {"year": 2026, "month": 6, "date": 13, "hours": 19, "utc": true}, "type": "temporal"},
        "y": {"datum": 0.02464, "type": "quantitative"}
      }
    }
  ]
}
